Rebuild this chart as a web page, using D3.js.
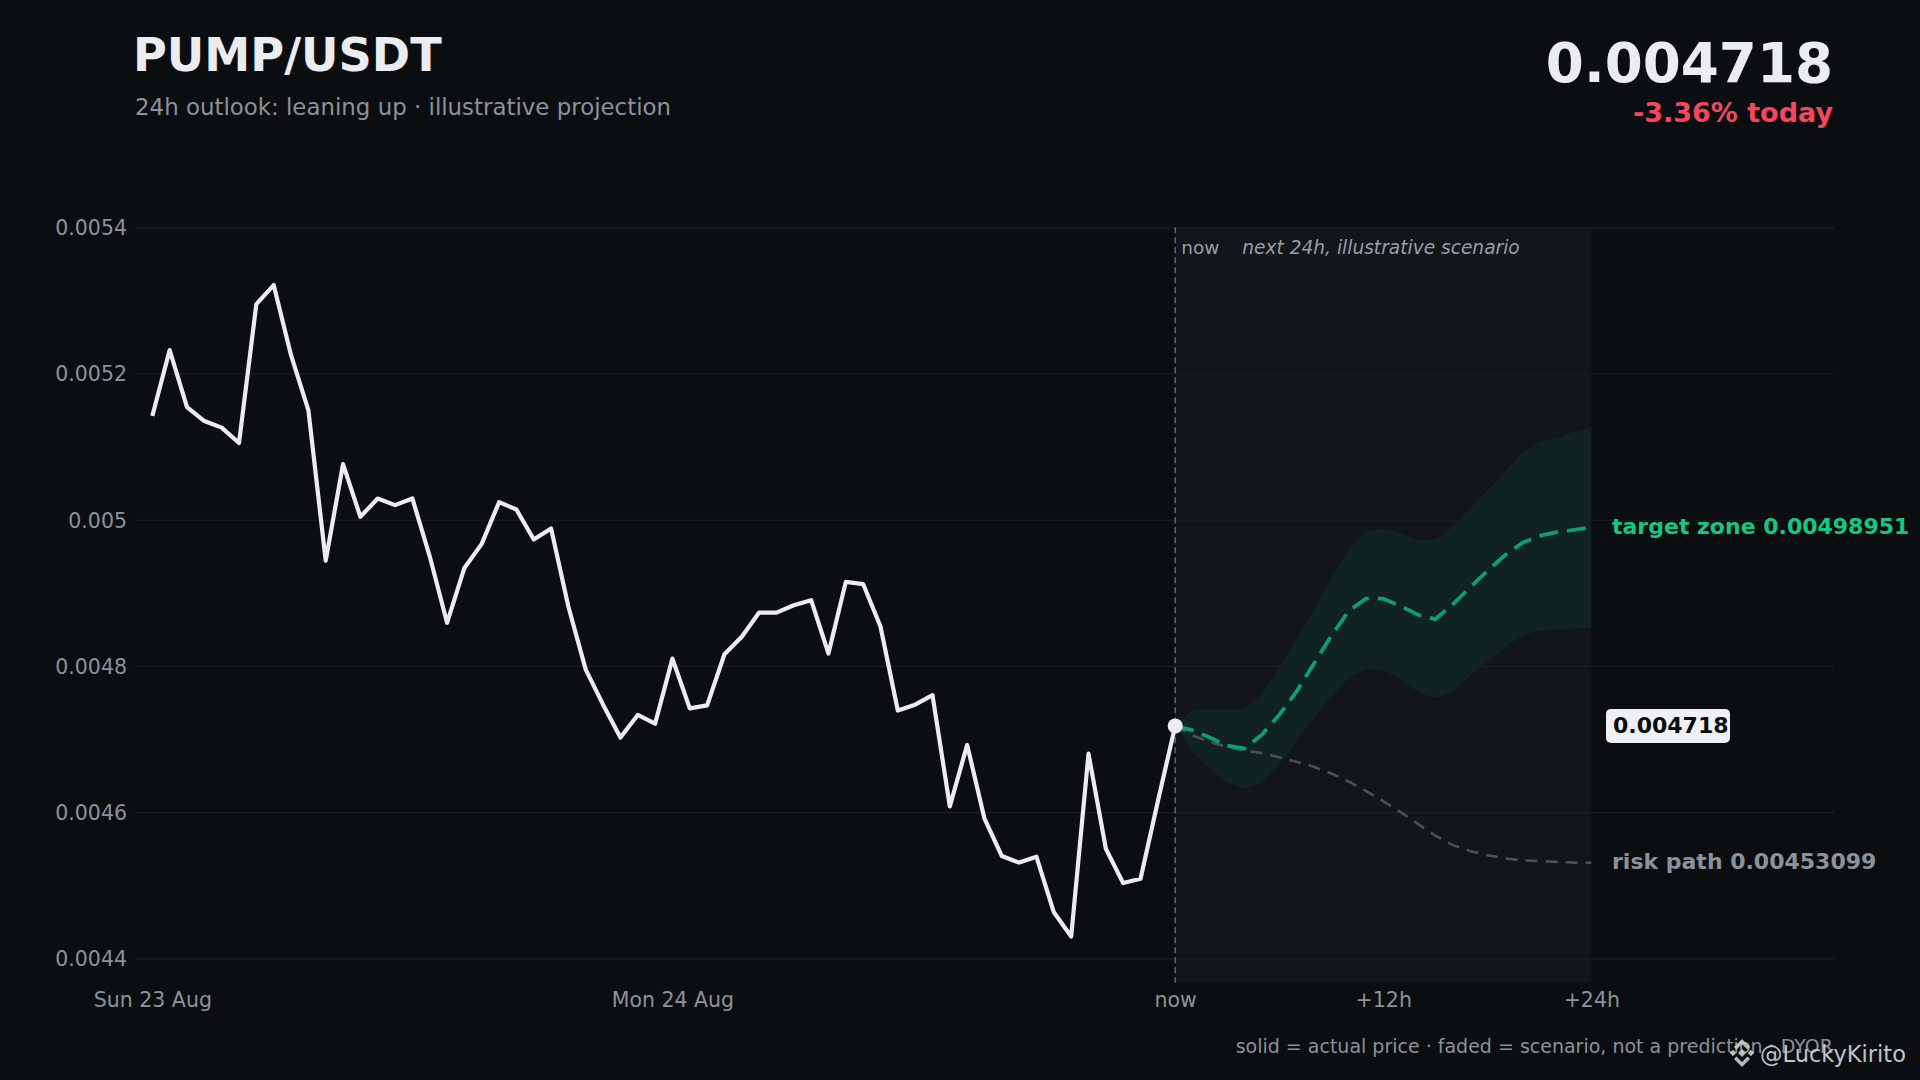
<!DOCTYPE html>
<html>
<head>
<meta charset="utf-8">
<script src="https://cdn.jsdelivr.net/npm/d3@7"></script>
<style>
  html, body { margin: 0; padding: 0; background: #0b0e11; }
  svg { display: block; font-family: "DejaVu Sans", sans-serif; }
</style>
</head>
<body>
<svg id="chart" width="1920" height="1080"></svg>
<script>
// price history, one point per step, last one = now
const history_prices = [
  0.005142, 0.005232, 0.005154, 0.005135, 0.005126, 0.005105, 0.005295, 0.005321, 0.005225, 0.005150,
  0.004944, 0.005076, 0.005004, 0.005029, 0.005020, 0.005029, 0.004950, 0.004859, 0.004934, 0.004967,
  0.005024, 0.005014, 0.004973, 0.004988, 0.004881, 0.004795, 0.004747, 0.004702, 0.004733, 0.004721,
  0.004810, 0.004742, 0.004746, 0.004816, 0.004840, 0.004873, 0.004873, 0.004883, 0.004890, 0.004817,
  0.004915, 0.004912, 0.004854, 0.004739, 0.004747, 0.004760, 0.004608, 0.004692, 0.004591, 0.004540,
  0.004531, 0.004539, 0.004463, 0.004430, 0.004680, 0.004550, 0.004503, 0.004509, 0.004615, 0.004718
];

// next 24h scenario, hourly (h = 0..24)
const target_path = [
  0.004718, 0.004712, 0.004702, 0.004691, 0.004687, 0.004706, 0.004733, 0.004765, 0.004803, 0.004841,
  0.004875, 0.004892, 0.004892, 0.004882, 0.004870, 0.004864, 0.004884, 0.004907, 0.004930, 0.004951,
  0.004968, 0.004978, 0.004983, 0.004986, 0.00498951
];
const band_upper = [
  0.004718, 0.004740, 0.004741, 0.004740, 0.004742, 0.004761, 0.004797, 0.004837, 0.004877, 0.004920,
  0.004959, 0.004983, 0.004988, 0.004981, 0.004972, 0.004973, 0.004990, 0.005015, 0.005040, 0.005065,
  0.005092, 0.005106, 0.005112, 0.005120, 0.005127
];
const band_lower = [
  0.004718, 0.004683, 0.004659, 0.004641, 0.004632, 0.004640, 0.004665, 0.004697, 0.004729, 0.004758,
  0.004783, 0.004796, 0.004794, 0.004781, 0.004764, 0.004756, 0.004765, 0.004786, 0.004806, 0.004825,
  0.004841, 0.004848, 0.004850, 0.004851, 0.004852
];
const risk_path = [
  0.004718, 0.004705, 0.004696, 0.004689, 0.004684, 0.004681, 0.004675, 0.004669, 0.004662, 0.004653,
  0.004642, 0.004629, 0.004615, 0.004600, 0.004584, 0.004568, 0.004555, 0.004547, 0.004541, 0.004537,
  0.004534, 0.004533, 0.004532, 0.004531, 0.00453099
];

// ticks
const y_ticks = [0.0044, 0.0046, 0.0048, 0.005, 0.0052, 0.0054];
const y_tick_labels = ["0.0044", "0.0046", "0.0048", "0.005", "0.0052", "0.0054"];
const x_ticks = [0, 30, 59, 71, 83];
const x_tick_labels = ["Sun 23 Aug", "Mon 24 Aug", "now", "+12h", "+24h"];

const pair_name = "PUMP/USDT",
    subtitle = "24h outlook: leaning up \u00b7 illustrative projection",
    last_price = "0.004718",
    day_change = "-3.36% today",
    target_label = "target zone 0.00498951",
    risk_label = "risk path 0.00453099",
    footer = "solid = actual price \u00b7 faded = scenario, not a prediction \u00b7 DYOR";

// Colors
const bg = "#0b0e11",
    text_main = "#eaecef",
    text_dim = "#8b929a",
    grid_col = "#1b1f24",
    green = "#0e9f6e",
    green_text = "#16c784",
    red = "#f6465d";

const svg = d3.select("#chart");
svg.append("rect").attr("width", 1920).attr("height", 1080).attr("fill", bg);

const plot_left = 135, plot_right = 1834, plot_top = 227.3, plot_bottom = 982.5;

const x = d3.scaleLinear().domain([-1, 97]).range([plot_left, plot_right]);
const y = d3.scaleLinear().domain([0.004367, 0.0054]).range([plot_bottom, plot_top]);

const now_i = history_prices.length - 1;
const proj_i = h => now_i + h;

// shaded projection window
svg.append("rect")
    .attr("x", x(now_i))
    .attr("y", plot_top)
    .attr("width", x(proj_i(24)) - x(now_i))
    .attr("height", plot_bottom - plot_top)
    .attr("fill", "#121519");

// y axis + gridlines
const y_axis = d3.axisLeft(y)
    .tickValues(y_ticks)
    .tickFormat((d, i) => y_tick_labels[i])
    .tickSizeInner(-(plot_right - plot_left))
    .tickSizeOuter(0)
    .tickPadding(8);

const gy = svg.append("g")
    .attr("transform", `translate(${plot_left},0)`)
    .call(y_axis);
gy.select(".domain").remove();
gy.selectAll("line").attr("stroke", grid_col).attr("stroke-width", 1.2);
gy.selectAll("text")
    .attr("fill", text_dim)
    .attr("font-size", 20.5)
    .attr("font-family", "DejaVu Sans")
    .attr("dy", "0.36em");

// x axis
const x_axis = d3.axisBottom(x)
    .tickValues(x_ticks)
    .tickFormat((d, i) => x_tick_labels[i])
    .tickSize(0)
    .tickPadding(10);

const gx = svg.append("g")
    .attr("transform", `translate(0,${plot_bottom})`)
    .call(x_axis);
gx.select(".domain").remove();
gx.selectAll("text")
    .attr("fill", text_dim)
    .attr("font-size", 20.5)
    .attr("font-family", "DejaVu Sans");

// band
const band_area = d3.area()
    .x((d, i) => x(proj_i(i)))
    .y0((d, i) => y(band_lower[i]))
    .y1(d => y(d));

svg.append("path")
    .datum(band_upper)
    .attr("d", band_area)
    .attr("fill", "#112320");

// now marker
svg.append("line")
    .attr("x1", x(now_i)).attr("x2", x(now_i))
    .attr("y1", plot_top).attr("y2", plot_bottom)
    .attr("stroke", "#60666f")
    .attr("stroke-width", 1.5)
    .attr("stroke-dasharray", "6,4");

svg.append("text")
    .attr("x", x(now_i) + 6).attr("y", 254)
    .attr("fill", "#979ea6")
    .attr("font-size", 18.5)
    .text("now");

svg.append("text")
    .attr("x", x(now_i) + 67).attr("y", 254)
    .attr("fill", "#979ea6")
    .attr("font-size", 18.6)
    .attr("font-style", "italic")
    .text("next 24h, illustrative scenario");

// scenario lines
const proj_line = d3.line()
    .x((d, i) => x(proj_i(i)))
    .y(d => y(d));

svg.append("path")
    .datum(risk_path)
    .attr("d", proj_line)
    .attr("fill", "none")
    .attr("stroke", "#4b5058")
    .attr("stroke-width", 2.6)
    .attr("stroke-dasharray", "12,8");

svg.append("path")
    .datum(target_path)
    .attr("d", proj_line)
    .attr("fill", "none")
    .attr("stroke", green)
    .attr("stroke-width", 3.8)
    .attr("stroke-dasharray", "19,9");

// actual price
const price_line = d3.line()
    .x((d, i) => x(i))
    .y(d => y(d));

svg.append("path")
    .datum(history_prices)
    .attr("d", price_line)
    .attr("fill", "none")
    .attr("stroke", text_main)
    .attr("stroke-width", 4.2)
    .attr("stroke-linejoin", "round");

svg.append("circle")
    .attr("cx", x(now_i))
    .attr("cy", y(history_prices[now_i]))
    .attr("r", 7.5)
    .attr("fill", text_main);

// right-hand labels
const label_x = 1612;

svg.append("text")
    .attr("x", label_x).attr("y", y(target_path[24]))
    .attr("dy", "0.3em")
    .attr("fill", green_text)
    .attr("font-size", 22)
    .attr("font-weight", "bold")
    .text(target_label);

svg.append("text")
    .attr("x", label_x).attr("y", y(risk_path[24]))
    .attr("dy", "0.3em")
    .attr("fill", "#8b929a")
    .attr("font-size", 22)
    .attr("font-weight", "bold")
    .text(risk_label);

const badge_y = y(history_prices[now_i]);
svg.append("rect")
    .attr("x", 1606).attr("y", badge_y - 17)
    .attr("width", 124).attr("height", 34)
    .attr("rx", 5)
    .attr("fill", "#eef0f3");
svg.append("text")
    .attr("x", label_x + 1).attr("y", badge_y)
    .attr("dy", "0.33em")
    .attr("fill", "#0b0e11")
    .attr("font-size", 22)
    .attr("font-weight", "bold")
    .text(last_price);

// header
svg.append("text")
    .attr("x", 133).attr("y", 71)
    .attr("fill", text_main)
    .attr("font-size", 46.2)
    .attr("font-weight", "bold")
    .text(pair_name);

svg.append("text")
    .attr("x", 135).attr("y", 114.5)
    .attr("fill", text_dim)
    .attr("font-size", 22.9)
    .text(subtitle);

svg.append("text")
    .attr("x", 1833).attr("y", 82)
    .attr("text-anchor", "end")
    .attr("fill", text_main)
    .attr("font-size", 54.7)
    .attr("font-weight", "bold")
    .text(last_price);

svg.append("text")
    .attr("x", 1833).attr("y", 121.5)
    .attr("text-anchor", "end")
    .attr("fill", red)
    .attr("font-size", 27)
    .attr("font-weight", "bold")
    .text(day_change);

// footer
svg.append("text")
    .attr("x", 1833).attr("y", 1053)
    .attr("text-anchor", "end")
    .attr("fill", text_dim)
    .attr("font-size", 19)
    .text(footer);

// watermark
const wm = svg.append("g")
    .attr("transform", "translate(1742,1053)")
    .attr("fill", "#d5d8dc")
    .attr("opacity", 0.85);
const dmd = (cx, cy, s) => `M${cx},${cy - s}L${cx + s},${cy}L${cx},${cy + s}L${cx - s},${cy}Z`;
wm.append("path").attr("d", dmd(0, 0, 4));
wm.append("path").attr("d", dmd(-9, 0, 3.2));
wm.append("path").attr("d", dmd(9, 0, 3.2));
wm.append("path").attr("d", "M0,-14L8,-6L5.5,-3.5L0,-9L-5.5,-3.5L-8,-6Z");
wm.append("path").attr("d", "M0,14L8,6L5.5,3.5L0,9L-5.5,3.5L-8,6Z");

svg.append("text")
    .attr("x", 1760).attr("y", 1062)
    .attr("fill", "#d5d8dc")
    .attr("opacity", 0.9)
    .attr("font-size", 22.5)
    .text("@LuckyKirito");
</script>
</body>
</html>
